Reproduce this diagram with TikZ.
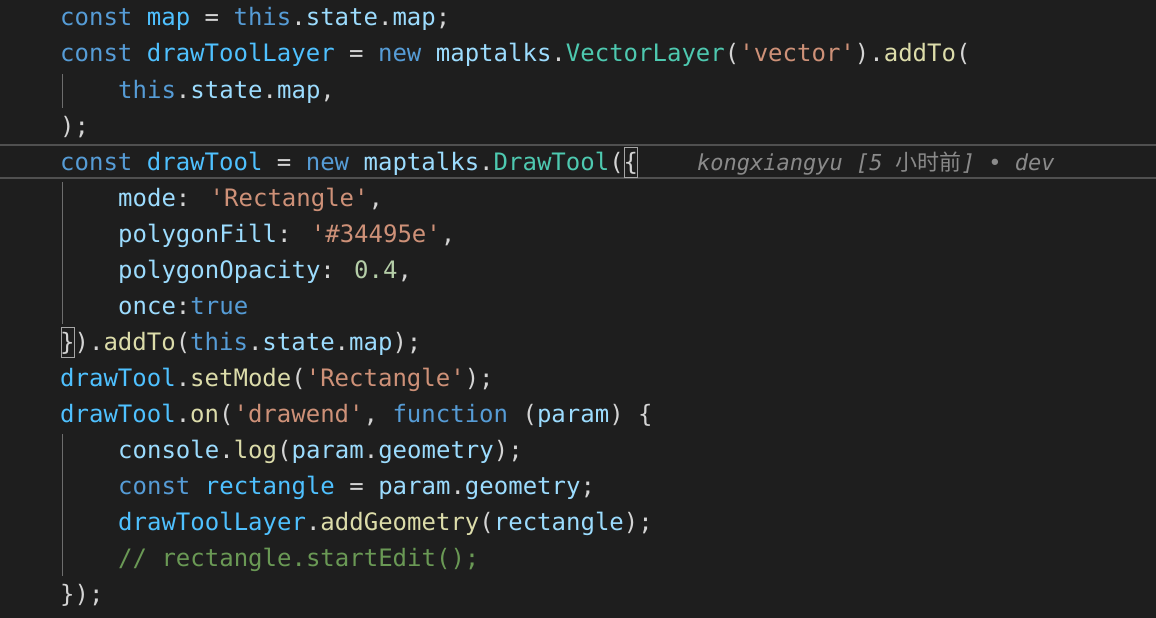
\documentclass[tikz,border=0pt]{standalone}
\usepackage{fontspec}
\newfontfamily\code{DejaVu Sans Mono}
\newfontfamily\cjk{Noto Sans CJK SC}
\definecolor{bg}{HTML}{1E1E1E}
\definecolor{kw}{HTML}{569CD6}
\definecolor{vr}{HTML}{9CDCFE}
\definecolor{cv}{HTML}{4FC1FF}
\definecolor{fn}{HTML}{DCDCAA}
\definecolor{cl}{HTML}{4EC9B0}
\definecolor{st}{HTML}{CE9178}
\definecolor{nm}{HTML}{B5CEA8}
\definecolor{cm}{HTML}{6A9955}
\definecolor{tx}{HTML}{D4D4D4}
\definecolor{bl}{HTML}{8A8A8A}
\newcommand\K[1]{\textcolor{kw}{#1}}
\newcommand\Vv[1]{\textcolor{vr}{#1}}
\newcommand\Cc[1]{\textcolor{cv}{#1}}
\newcommand\F[1]{\textcolor{fn}{#1}}
\newcommand\Cl[1]{\textcolor{cl}{#1}}
\newcommand\Ss[1]{\textcolor{st}{#1}}
\newcommand\N[1]{\textcolor{nm}{#1}}
\newcommand\Cm[1]{\textcolor{cm}{#1}}
\begin{document}
\begin{tikzpicture}[x=1pt,y=-1pt,
  ln/.style={anchor=base west,inner sep=0pt,font=\code\fontsize{24}{24}\selectfont,text=tx},
  guide/.style={draw=white!35!bg,line width=1pt}]
\fill[bg] (0,0) rectangle (1156,618);
\useasboundingbox (0,0) rectangle (1156,618);
% current line highlight
\draw[white!22!bg,line width=1.5pt] (0,145) -- (1156,145) (0,178) -- (1156,178);
% indent guides
\draw[guide] (62,74) -- (62,108);
\draw[guide] (62,182) -- (62,324);
\draw[guide] (62,434) -- (62,576);
% bracket match boxes
\draw[gray!70,line width=1pt] (624,147) rectangle (637,177);
\draw[gray!70,line width=1pt] (61,327) rectangle (74,357);
\node[ln] (l1) at (60,26) {\K{const} \Cc{map} = \K{this}.\Vv{state}.\Vv{map};};
\node[ln] (l2) at (60,62) {\K{const} \Cc{drawToolLayer} = \K{new} \Vv{maptalks}.\Cl{VectorLayer}(\Ss{'vector'}).\F{addTo}(};
\node[ln] (l3) at (118,98) {\K{this}.\Vv{state}.\Vv{map},};
\node[ln] (l4) at (60,134) {);};
\node[ln] (l5) at (60,170) {\K{const} \Cc{drawTool} = \K{new} \Vv{maptalks}.\Cl{DrawTool}(\{};
\node[ln,text=bl,font=\code\itshape\fontsize{22}{22}\selectfont] (bl) at (697,170) {kongxiangyu [5 {\cjk\upshape 小时前}] • dev};
\node[ln] (l6) at (118,206) {\Vv{mode}: \Ss{'Rectangle'},};
\node[ln] (l7) at (118,242) {\Vv{polygonFill}: \Ss{'\#34495e'},};
\node[ln] (l8) at (118,278) {\Vv{polygonOpacity}: \N{0.4},};
\node[ln] (l9) at (118,314) {\Vv{once}:\K{true}};
\node[ln] (l10) at (60,350) {\}).\F{addTo}(\K{this}.\Vv{state}.\Vv{map});};
\node[ln] (l11) at (60,386) {\Cc{drawTool}.\F{setMode}(\Ss{'Rectangle'});};
\node[ln] (l12) at (60,422) {\Cc{drawTool}.\F{on}(\Ss{'drawend'}, \K{function} (\Vv{param}) \{};
\node[ln] (l13) at (118,458) {\Vv{console}.\F{log}(\Vv{param}.\Vv{geometry});};
\node[ln] (l14) at (118,494) {\K{const} \Cc{rectangle} = \Vv{param}.\Vv{geometry};};
\node[ln] (l15) at (118,530) {\Cc{drawToolLayer}.\F{addGeometry}(\Vv{rectangle});};
\node[ln] (l16) at (118,566) {\Cm{// rectangle.startEdit();}};
\node[ln] (l17) at (60,602) {\});};
\end{tikzpicture}
\end{document}
